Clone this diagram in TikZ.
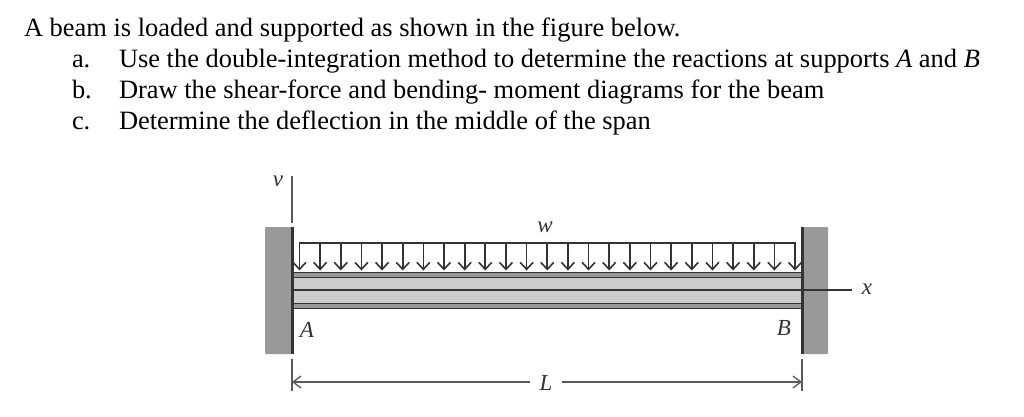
\documentclass[tikz,border=0pt]{standalone}
\usepackage{fontspec}
\setmainfont{Liberation Serif}
\usetikzlibrary{arrows.meta}
\definecolor{wallgrey}{gray}{0.6}
\definecolor{webgrey}{gray}{0.8}
\definecolor{inkdark}{gray}{0.2}
\definecolor{inkmid}{gray}{0.35}
\tikzset{
  body/.style={anchor=base west,inner sep=0pt,outer sep=0pt,font=\fontsize{26.45}{30}\selectfont,text=black},
  fig/.style={inner sep=0pt,outer sep=0pt,font=\fontsize{23}{26}\selectfont\itshape,text=inkdark},
  wallbox/.style={fill=wallgrey,rounded corners=1pt},
  faceline/.style={line width=3pt,draw=inkdark},
  flange/.style={line width=1.6pt,draw=inkdark},
  thinaxis/.style={line width=1.4pt,draw=inkmid},
  loadline/.style={line width=1.5pt,draw=inkdark},
  loadarrow/.style={line width=1.7pt,draw=inkdark,-{Straight Barb[length=7pt,width=13pt,line width=1.6pt]}},
  dimarrow/.style={line width=1.4pt,draw=inkmid,-{Straight Barb[length=8pt,width=12pt,line width=1.3pt]}}
}
\begin{document}
\begin{tikzpicture}[x=1pt,y=-1pt]
\useasboundingbox (0,0) rectangle (1024,417);
% text
\node[body] (t0) at (24,37) {A beam is loaded and supported as shown in the figure below.};
\node[body] (la) at (72,68) {a.};
\node[body] (ta) at (119,68) {Use the double-integration method to determine the reactions at supports \textit{A} and \textit{B}};
\node[body] (lb) at (72,99) {b.};
\node[body] (tb) at (119,99) {Draw the shear-force and bending- moment diagrams for the beam};
\node[body] (lc) at (72,129) {c.};
\node[body] (tc) at (119,129) {Determine the deflection in the middle of the span};
% walls
\fill[wallbox] (265,227) rectangle (292,354);
\fill[wallbox] (802,227) rectangle (828,354);
% beam
\fill[webgrey] (292,277) rectangle (802,304);
\fill[wallgrey] (292,272) rectangle (802,278);
\fill[wallgrey] (292,303) rectangle (802,309);
\draw[flange] (292,272.5) -- (802,272.5);
\draw[flange] (292,277.5) -- (802,277.5);
\draw[flange] (292,303.5) -- (802,303.5);
\draw[flange] (292,308.5) -- (802,308.5);
\draw[faceline] (292,227) -- (292,354);
\draw[faceline] (802,227) -- (802,354);
% load
\draw[loadline] (299.5,270) -- (299.5,243) -- (795,243) -- (795,270);
\foreach \i in {0,...,24}{
  \draw[loadarrow] ({299.5+\i*20.646},243) -- ({299.5+\i*20.646},270.5);
}
% axes
\coordinate (vtop) at (292,176);
\coordinate (vbot) at (292,223);
\coordinate (xstart) at (292,290);
\coordinate (xend) at (852,290);
\draw[thinaxis] (vtop) -- (vbot);
\node[fig] (v) at (278,181) {v};
\node[fig] (xl) at (867,289) {x};
\draw[line width=1.2pt,draw=inkdark] (xstart) -- (xend);
% labels
\node[fig] (w) at (545,227) {w};
\node[fig] (A) at (307,330) {A};
\node[fig] (B) at (784,328) {B};
% dimension
\node[fig] (L) at (546,383) {L};
\coordinate (dl) at (292,382);
\coordinate (dr) at (802,382);
\coordinate (gl) at (530,382);
\coordinate (gr) at (562,382);
\draw[thinaxis] (292,359) -- (292,391);
\draw[thinaxis] (802,359) -- (802,391);
\draw[dimarrow] (gl) -- (dl);
\draw[dimarrow] (gr) -- (dr);
\end{tikzpicture}
\end{document}
